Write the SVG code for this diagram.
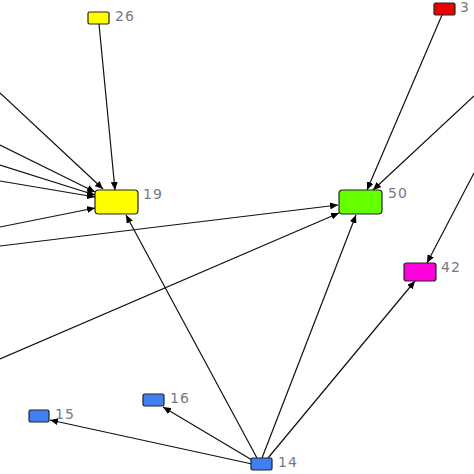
<svg xmlns="http://www.w3.org/2000/svg" width="474" height="474" viewBox="0 0 474 474">
<style>
.e{stroke:#111;stroke-width:1.2;fill:none;marker-end:url(#ah)}
.n{stroke:#222;stroke-width:1.2}
.t{font-family:"DejaVu Sans",sans-serif;font-size:14px;fill:#737a88;letter-spacing:1.2px}
</style>
<defs>
<marker id="ah" markerUnits="userSpaceOnUse" markerWidth="9" markerHeight="7" refX="8" refY="3.5" orient="auto">
<path d="M0,0 L8,3.5 L0,7 Z" fill="#000"/>
</marker>
</defs>
<rect width="474" height="474" fill="#fff"/>
<g id="connectors">
<line class="e" x1="99" y1="24" x2="115" y2="190"/>
<line class="e" x1="0" y1="93" x2="103" y2="189"/>
<line class="e" x1="0" y1="145" x2="95" y2="192"/>
<line class="e" x1="0" y1="165" x2="95" y2="195"/>
<line class="e" x1="0" y1="181" x2="95" y2="197"/>
<line class="e" x1="0" y1="227" x2="95" y2="208"/>
<line class="e" x1="0" y1="246" x2="338" y2="205"/>
<line class="e" x1="0" y1="359" x2="339" y2="213"/>
<line class="e" x1="257" y1="458" x2="126" y2="215"/>
<line class="e" x1="262" y1="458" x2="356" y2="215"/>
<line class="e" x1="268" y1="458" x2="415" y2="281"/>
<line class="e" x1="252" y1="464" x2="50" y2="420"/>
<line class="e" x1="252" y1="460" x2="163" y2="407"/>
<line class="e" x1="442" y1="15" x2="367" y2="190"/>
<line class="e" x1="474" y1="96" x2="373" y2="190"/>
<line class="e" x1="474" y1="173" x2="427" y2="263"/>
</g>
<g id="n26"><rect class="n" x="88" y="12" width="21" height="12" rx="1.5" fill="#ffff00"/><text class="t" x="115" y="21">26</text></g>
<g id="n19"><rect class="n" x="95" y="190" width="43" height="24" rx="3.5" fill="#ffff00"/><text class="t" x="143" y="199">19</text></g>
<g id="n3"><rect class="n" x="434" y="3" width="21" height="12" rx="1.5" fill="#ee0000"/><text class="t" x="460" y="12">3</text></g>
<g id="n50"><rect class="n" x="339" y="190" width="43" height="24" rx="3.5" fill="#66ff00"/><text class="t" x="388" y="198">50</text></g>
<g id="n42"><rect class="n" x="404" y="263" width="32" height="18" rx="2.5" fill="#ff00dd"/><text class="t" x="441" y="272">42</text></g>
<g id="n16"><rect class="n" x="143" y="394" width="21" height="12" rx="1.5" fill="#3f7ff0"/><text class="t" x="170" y="403">16</text></g>
<g id="n15"><rect class="n" x="29" y="410" width="20" height="12" rx="1.5" fill="#3f7ff0"/><text class="t" x="55" y="419">15</text></g>
<g id="n14"><rect class="n" x="251" y="458" width="21" height="12" rx="1.5" fill="#3f7ff0"/><text class="t" x="278" y="467">14</text></g>
</svg>
